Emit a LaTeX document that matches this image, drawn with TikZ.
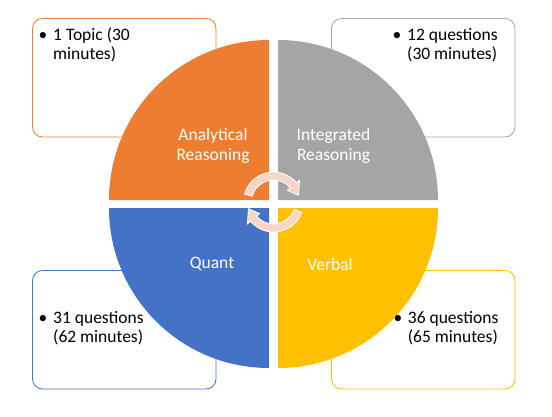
\documentclass[tikz,border=0pt]{standalone}
\usepackage{fontspec}
\setmainfont{Carlito}
\definecolor{secorange}{HTML}{ED7D31}
\definecolor{secgray}{HTML}{A5A5A5}
\definecolor{secblue}{HTML}{4472C4}
\definecolor{secyellow}{HTML}{FFC000}
\definecolor{cyclepink}{RGB}{247,213,200}
\newcommand{\boxLines}[2]{\begin{tabular}[t]{@{}l@{}}#1\\#2\end{tabular}}
\tikzset{
  infobox/.style={draw, fill=white, rounded corners=10pt, line width=0.8pt, minimum width=183.5pt, minimum height=118.5pt, inner sep=0pt},
  itemtext/.style={font=\fontsize{17.5}{19}\selectfont, inner sep=0pt, anchor=base west},
  itembullet/.style={font=\fontsize{17.5}{19}\selectfont, inner sep=0pt, anchor=base},
  sectorlabel/.style={font=\fontsize{17.5}{20}\selectfont, text=white, align=center, inner sep=0pt},
  cyclearrow/.style={fill=cyclepink, draw=white, line width=0.8pt}
}

\begin{document}
\begin{tikzpicture}[x=1pt, y=1pt]
    \useasboundingbox (0,0) rectangle (552,416);

    % boxes behind the circle
    \node [infobox] [draw=secorange] (analyticalbox) at (124.25,338.25) {};
    \node [infobox] [draw=secgray]   (integratedbox) at (423.25,338.25) {};
    \node [infobox] [draw=secblue]   (quantbox)      at (124.25,86.25)  {};
    \node [infobox] [draw=secyellow] (verbalbox)     at (423.25,86.25)  {};

    % the four quarters
    \fill [secorange] (269,216) -- ++(-160,0) arc [start angle=180, end angle=90,  radius=160pt] -- cycle;
    \fill [secgray]   (278,216) -- ++(0,160)  arc [start angle=90,  end angle=0,   radius=160pt] -- cycle;
    \fill [secblue]   (269,208) -- ++(-160,0) arc [start angle=180, end angle=270, radius=160pt] -- cycle;
    \fill [secyellow] (278,208) -- ++(160,0)  arc [start angle=0,   end angle=-90, radius=160pt] -- cycle;

    \node [sectorlabel] (analytical) at (213,270)   {Analytical\\Reasoning};
    \node [sectorlabel] (integrated) at (333.5,270) {Integrated\\Reasoning};
    \node [sectorlabel] (quant)      at (212,152)   {Quant};
    \node [sectorlabel] (verbal)     at (330,152)   {Verbal};

    % cycle arrows in the middle
    \begin{scope}[shift={(273.5,214)}]
        \filldraw [cyclearrow] (165:30pt) arc [start angle=165, end angle=40, radius=30pt]
            -- (40:34pt) -- (15:26pt) -- (40:18pt) -- (40:22pt)
            arc [start angle=40, end angle=165, radius=22pt] -- cycle;
        \filldraw [cyclearrow] (-20:30pt) arc [start angle=-20, end angle=-140, radius=30pt]
            -- (-140:34pt) -- (-165:26pt) -- (-140:18pt) -- (-140:22pt)
            arc [start angle=-140, end angle=-20, radius=22pt] -- cycle;
    \end{scope}

    % bullet texts
    \node [itembullet] (analyticaldot) at (43,375.3)  {•};
    \node [itemtext]   (analyticaltxt) at (53,375.3)  {\boxLines{1 Topic (30}{minutes)}};
    \node [itembullet] (integrateddot) at (397,375.3) {•};
    \node [itemtext]   (integratedtxt) at (407,375.3) {\boxLines{12 questions}{(30 minutes)}};
    \node [itembullet] (quantdot)      at (43,92.7)   {•};
    \node [itemtext]   (quanttxt)      at (53,92.7)   {\boxLines{31 questions}{(62 minutes)}};
    \node [itembullet] (verbaldot)     at (398,92.7)  {•};
    \node [itemtext]   (verbaltxt)     at (407.7,92.7) {\boxLines{36 questions}{(65 minutes)}};
\end{tikzpicture}
\end{document}
